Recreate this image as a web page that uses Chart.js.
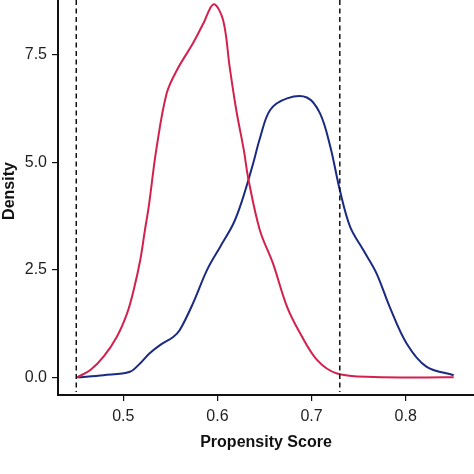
<!DOCTYPE html>
<html>
<head>
<meta charset="utf-8">
<script src="https://cdn.jsdelivr.net/npm/chart.js@4.4.1/dist/chart.umd.min.js"></script>
<style>
  html, body { margin: 0; padding: 0; background: #fff; }
  #wrap { width: 474px; height: 474px; }
</style>
</head>
<body>
<div id="wrap"><canvas id="chart" width="474" height="474"></canvas></div>
<script>
// propensity score density, two groups
const redScore = [0.451, 0.465, 0.479, 0.493, 0.504, 0.511, 0.518, 0.523, 0.527, 0.535, 0.546, 0.557,
                  0.574, 0.585, 0.596, 0.606, 0.613, 0.620, 0.628, 0.633, 0.645, 0.659, 0.674, 0.688,
                  0.706, 0.727, 0.766, 0.851];
const redDensity = [0.00, 0.17, 0.48, 0.94, 1.49, 2.03, 2.73, 3.43, 3.97, 5.29, 6.60, 7.15,
                    7.77, 8.23, 8.68, 8.31, 7.22, 6.22, 5.29, 4.60, 3.43, 2.65, 1.64, 1.02,
                    0.40, 0.09, 0.01, 0.00];

const blueScore = [0.451, 0.479, 0.507, 0.518, 0.528, 0.539, 0.553, 0.560, 0.574, 0.589, 0.603, 0.617,
                   0.626, 0.638, 0.645, 0.656, 0.674, 0.695, 0.709, 0.720, 0.730, 0.741, 0.755, 0.769,
                   0.783, 0.801, 0.822, 0.851];
const blueDensity = [0.00, 0.05, 0.13, 0.33, 0.56, 0.75, 0.94, 1.10, 1.72, 2.50, 3.04, 3.58,
                     4.10, 4.98, 5.55, 6.22, 6.49, 6.51, 6.14, 5.36, 4.36, 3.50, 2.96, 2.42,
                     1.64, 0.79, 0.25, 0.05];

const cutoffs = [0.45, 0.73];
const xTicks = [0.5, 0.6, 0.7, 0.8];
const yTicks = [0, 2.5, 5, 7.5];

const toPoints = (xs, ys) => xs.map((x, i) => ({ x: x, y: ys[i] }));

// vertical dashed cut-off lines
const cutoffLines = {
  id: 'cutoffLines',
  afterDatasetsDraw(chart) {
    const { ctx, chartArea, scales } = chart;
    ctx.save();
    ctx.strokeStyle = '#111';
    ctx.lineWidth = 1.5;
    ctx.setLineDash([5, 3.5]);
    cutoffs.forEach(c => {
      const px = scales.x.getPixelForValue(c);
      ctx.beginPath();
      ctx.moveTo(px, Math.max(chartArea.top, 0));
      ctx.lineTo(px, chartArea.bottom - 3);
      ctx.stroke();
    });
    ctx.restore();
  }
};

// the original panel is cropped at the top: let the y scale start above the canvas
const cropTop = {
  id: 'cropTop',
  afterLayout(chart) {
    const y = chart.scales.y;
    y.top = -13;
    y.configure();
  }
};

// ignore tick label overflow padding
const noPad = s => { s.paddingTop = 0; s.paddingBottom = 0; s.paddingLeft = 0; s.paddingRight = 0; };

const tickFont = { family: 'Liberation Sans, Arial, sans-serif', size: 16 };
const titleFont = { family: 'Liberation Sans, Arial, sans-serif', size: 16, weight: 'bold' };

new Chart(document.getElementById('chart'), {
  type: 'line',
  data: {
    datasets: [
      {
        label: 'Group 1',
        data: toPoints(redScore, redDensity),
        borderColor: '#d3214d',
        borderWidth: 2,
        pointRadius: 0,
        tension: 0.35,
        fill: false
      },
      {
        label: 'Group 2',
        data: toPoints(blueScore, blueDensity),
        borderColor: '#1a2a82',
        borderWidth: 2,
        pointRadius: 0,
        tension: 0.35,
        fill: false
      }
    ]
  },
  options: {
    responsive: false,
    animation: false,
    devicePixelRatio: 1,
    layout: { padding: 0 },
    plugins: { legend: { display: false }, tooltip: { enabled: false } },
    scales: {
      x: {
        type: 'linear',
        min: 0.4306,
        max: 0.8726,
        afterBuildTicks: s => { s.ticks = xTicks.map(v => ({ value: v })); },
        afterFit: s => { s.height = 79; noPad(s); },
        ticks: { callback: v => v.toFixed(1), color: '#1e1e1e', font: tickFont, padding: 6, maxRotation: 0 },
        grid: { drawOnChartArea: false, drawTicks: true, tickLength: 6, color: '#111', lineWidth: 1.2 },
        border: { display: true, color: '#111', width: 2 },
        title: { display: true, text: 'Propensity Score', color: '#111', font: titleFont, padding: { top: 4, bottom: 22 } }
      },
      y: {
        min: -0.41,
        max: 9.08,
        afterBuildTicks: s => { s.ticks = yTicks.map(v => ({ value: v })); },
        afterFit: s => { s.width = 58; noPad(s); },
        ticks: { callback: v => v.toFixed(1), color: '#1e1e1e', font: tickFont, padding: 5 },
        grid: { drawOnChartArea: false, drawTicks: true, tickLength: 6, color: '#111', lineWidth: 1.2 },
        border: { display: true, color: '#111', width: 2 },
        title: { display: true, text: 'Density', color: '#111', font: titleFont, padding: { top: 0, bottom: 0 } }
      }
    }
  },
  plugins: [cropTop, cutoffLines]
});
</script>
</body>
</html>
